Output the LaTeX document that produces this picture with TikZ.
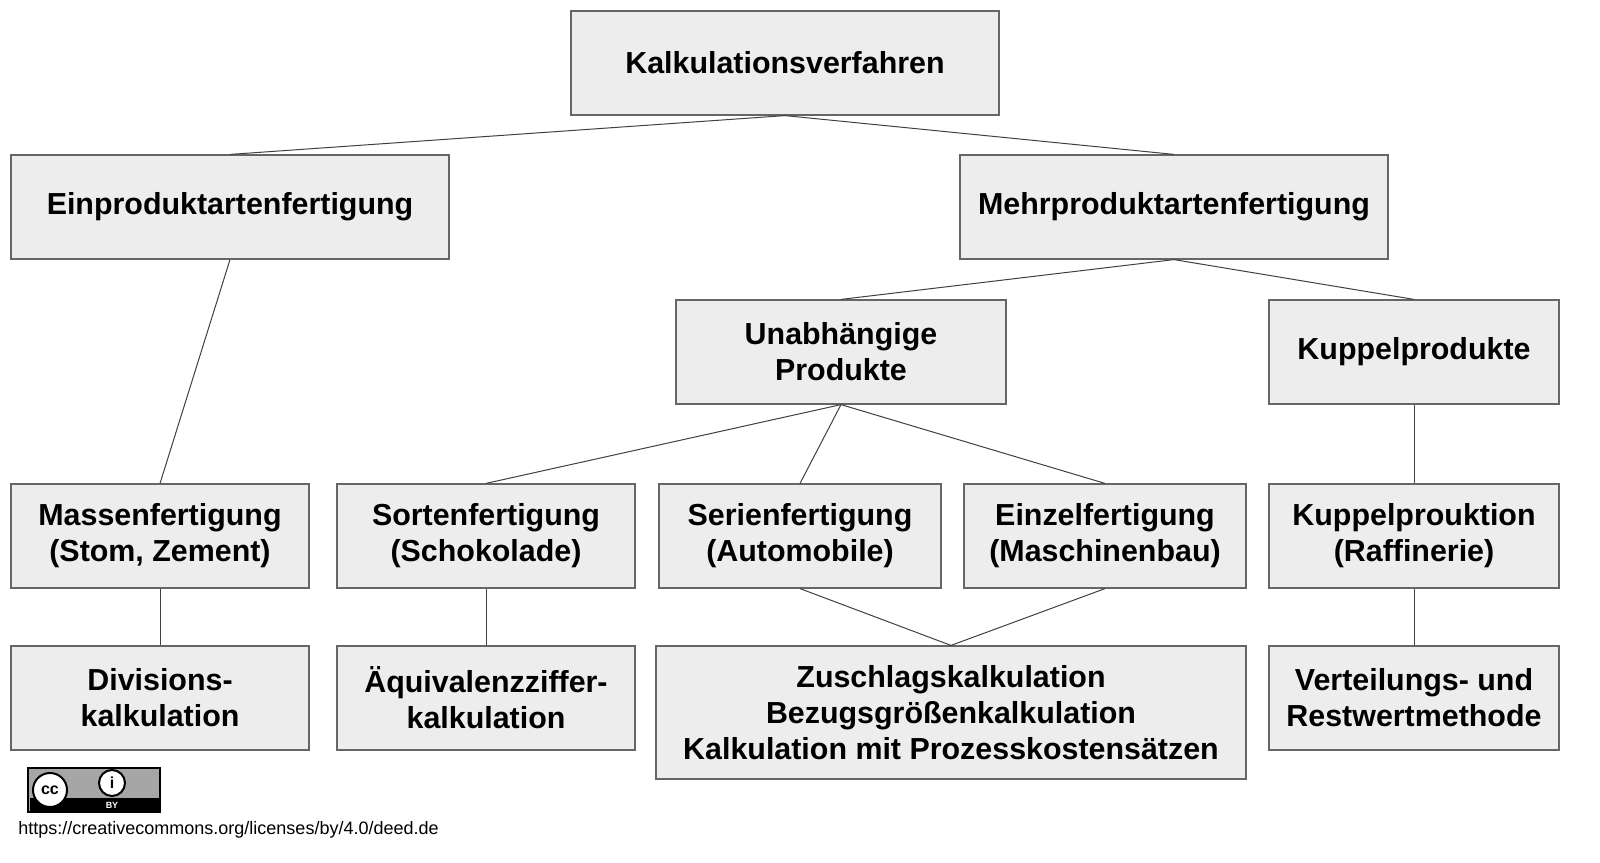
\documentclass[tikz,border=0pt]{standalone}
\usepackage{fontspec}
\setmainfont{Liberation Sans}
\begin{document}
\begin{tikzpicture}[x=0.5pt,y=-0.5pt,
    box/.style={draw=black!60,fill=black!7,line width=0.6pt,align=center,
      font=\fontsize{15.2}{18}\selectfont\bfseries,inner sep=0pt},
    link/.style={black!75,line width=0.5pt}]
      \useasboundingbox (0,0) rectangle (1600,862);

      \node[box,minimum width=214pt,minimum height=52pt] (A) at (785,63) {Kalkulationsverfahren};

      \node[box,minimum width=219pt,minimum height=52pt] (B) at (230,207) {Einproduktartenfertigung};
      \node[box,minimum width=214pt,minimum height=52pt] (C) at (1174,207) {Mehrproduktartenfertigung};

      \node[box,minimum width=165pt,minimum height=52pt] (D) at (841,352) {Unabhängige\\Produkte};
      \node[box,minimum width=145pt,minimum height=52pt] (E) at (1414,352) {Kuppelprodukte};

      \node[box,minimum width=149pt,minimum height=52pt] (F) at (160,536) {Massenfertigung\\(Stom, Zement)};
      \node[box,minimum width=149pt,minimum height=52pt] (G) at (486,536) {Sortenfertigung\\(Schokolade)};
      \node[box,minimum width=141pt,minimum height=52pt] (H) at (800,536) {Serienfertigung\\(Automobile)};
      \node[box,minimum width=141pt,minimum height=52pt] (I) at (1105,536) {Einzelfertigung\\(Maschinenbau)};
      \node[box,minimum width=145pt,minimum height=52pt] (J) at (1414,536) {Kuppelprouktion\\(Raffinerie)};

      \node[box,minimum width=149pt,minimum height=52pt] (K) at (160,698) {Divisions-\\kalkulation};
      \node[box,minimum width=149pt,minimum height=52pt] (L) at (486,698) {Äquivalenzziffer-\\kalkulation};
      \node[box,minimum width=295pt,minimum height=66.5pt] (M) at (951,712.5) {Zuschlagskalkulation\\Bezugsgrößenkalkulation\\Kalkulation mit Prozesskostensätzen};
      \node[box,minimum width=145pt,minimum height=52pt] (N) at (1414,698) {Verteilungs- und\\Restwertmethode};

      \draw[link] (A.south) -- (B.north);
      \draw[link] (A.south) -- (C.north);
      \draw[link] (B.south) -- (F.north);
      \draw[link] (C.south) -- (D.north);
      \draw[link] (C.south) -- (E.north);
      \draw[link] (D.south) -- (G.north);
      \draw[link] (D.south) -- (H.north);
      \draw[link] (D.south) -- (I.north);
      \draw[link] (E.south) -- (J.north);
      \draw[link] (F.south) -- (K.north);
      \draw[link] (G.south) -- (L.north);
      \draw[link] (H.south) -- (M.north);
      \draw[link] (I.south) -- (M.north);
      \draw[link] (J.south) -- (N.north);

      % licence badge
      \node[draw=black,line width=0.8pt,fill=black!35,minimum width=66pt,minimum height=22pt,inner sep=0pt] (cc) at (94,790) {};
      \fill[black] (30,798) rectangle (159,812);
      \node[circle,draw=black,line width=1pt,fill=white,minimum size=17pt,inner sep=0pt,font=\fontsize{8}{8}\selectfont\bfseries] (cclogo) at (50,790) {cc};
      \node[circle,draw=black,line width=1pt,fill=white,minimum size=13pt,inner sep=0pt,font=\fontsize{8}{8}\selectfont\bfseries] (bylogo) at (112,783) {i};
      \node[white,font=\fontsize{4.5}{5}\selectfont\bfseries] (bytext) at (112,805) {BY};
      \node[anchor=west,inner sep=0pt,font=\fontsize{9}{10}\selectfont] (url) at (18,830) {https://creativecommons.org/licenses/by/4.0/deed.de};
\end{tikzpicture}
\end{document}
